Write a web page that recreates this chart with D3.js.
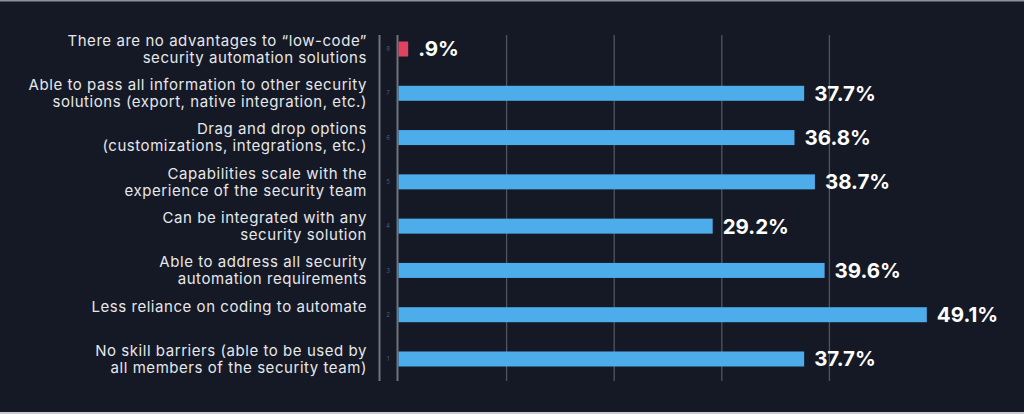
<!DOCTYPE html>
<html>
<head>
<meta charset="utf-8">
<script src="https://cdn.jsdelivr.net/npm/d3@7"></script>
<style>
  html, body { margin: 0; padding: 0; background: #141925; }
  #chart { width: 1024px; height: 414px; }
</style>
</head>
<body>
<div id="chart"></div>
<script>

// data
const ids = [8, 7, 6, 5, 4, 3, 2, 1];
const labels = [
  ["There are no advantages to \u201clow-code\u201d", "security automation solutions"],
  ["Able to pass all information to other security", "solutions (export, native integration, etc.)"],
  ["Drag and drop options", "(customizations, integrations, etc.)"],
  ["Capabilities scale with the", "experience of the security team"],
  ["Can be integrated with any", "security solution"],
  ["Able to address all security", "automation requirements"],
  ["Less reliance on coding to automate"],
  ["No skill barriers (able to be used by", "all members of the security team)"]
];
const values = [0.9, 37.7, 36.8, 38.7, 29.2, 39.6, 49.1, 37.7];
const valueText = [".9%", "37.7%", "36.8%", "38.7%", "29.2%", "39.6%", "49.1%", "37.7%"];
const gridTicks = [10, 20, 30, 40];

// dim
const W = 1024, H = 414;
const plotTop = 35, plotBottom = 381;

const svg = d3.select("#chart")
  .append("svg")
    .attr("width", W)
    .attr("height", H);

// background + frame lines
svg.append("rect").attr("width", W).attr("height", H).attr("fill", "#141925");
svg.append("rect").attr("x", 0).attr("y", 0).attr("width", W).attr("height", 1.5).attr("fill", "#8d9097");
svg.append("rect").attr("x", 0).attr("y", 412).attr("width", W).attr("height", 2).attr("fill", "#c9cacd");

const x = d3.scaleLinear()
  .domain([0, 50])
  .range([398.5, 936.5]);

const y = d3.scaleBand()
  .domain(ids)
  .range([35, 373])
  .paddingInner(0.661)
  .paddingOuter(0.147);

// grid lines
svg.append("g")
  .attr("transform", `translate(0, ${plotTop})`)
  .call(d3.axisTop(x).tickValues(gridTicks).tickSize(-(plotBottom - plotTop)).tickFormat(""))
  .call(g => g.select(".domain").remove())
  .call(g => g.selectAll("line").attr("stroke", "#50545e").attr("stroke-width", 1.3));

// left double line
svg.append("line")
  .attr("x1", 379.5).attr("x2", 379.5)
  .attr("y1", plotTop).attr("y2", plotBottom)
  .attr("stroke", "#6f737c").attr("stroke-width", 2);
svg.append("line")
  .attr("x1", x(0) - 1).attr("x2", x(0) - 1)
  .attr("y1", plotTop).attr("y2", plotBottom)
  .attr("stroke", "#6f737c").attr("stroke-width", 2);

// tiny index numbers
svg.append("g")
  .selectAll("text")
  .data(ids)
  .join("text")
    .attr("x", 388)
    .attr("y", d => y(d) + y.bandwidth() / 2)
    .attr("dy", "0.35em")
    .attr("text-anchor", "middle")
    .attr("font-family", "Inter, sans-serif")
    .attr("font-size", 6)
    .attr("fill", "#555a65")
    .text(d => d);

// bars
svg.append("g")
  .selectAll("rect")
  .data(values)
  .join("rect")
    .attr("x", x(0))
    .attr("y", (d, i) => y(ids[i]))
    .attr("width", d => x(d) - x(0))
    .attr("height", y.bandwidth())
    .attr("fill", (d, i) => i === 0 ? "#df4360" : "#4dadeb");

// value labels
svg.append("g")
  .selectAll("text")
  .data(values)
  .join("text")
    .attr("x", d => x(d) + 10)
    .attr("y", (d, i) => y(ids[i]) + y.bandwidth() / 2)
    .attr("dy", "0.36em")
    .attr("font-family", "Inter, sans-serif")
    .attr("font-weight", 700)
    .attr("font-size", 20.5)
    .attr("fill", "#ffffff")
    .text((d, i) => valueText[i]);

// category labels (two line slots, single line sits in the top one)
const lab = svg.append("g")
  .selectAll("text")
  .data(labels)
  .join("text")
    .attr("text-anchor", "end")
    .attr("font-family", "Inter, sans-serif")
    .attr("font-size", 15)
    .attr("letter-spacing", 0.55)
    .attr("fill", "#e6e7ea");

lab.selectAll("tspan")
  .data((d, i) => d.map(t => ({t, i})))
  .join("tspan")
    .attr("x", 367)
    .attr("y", (d, j) => y(ids[d.i]) + y.bandwidth() / 2 + (j === 0 ? -8.5 : 8.5))
    .attr("dy", "0.36em")
    .text(d => d.t);

</script>
</body>
</html>
